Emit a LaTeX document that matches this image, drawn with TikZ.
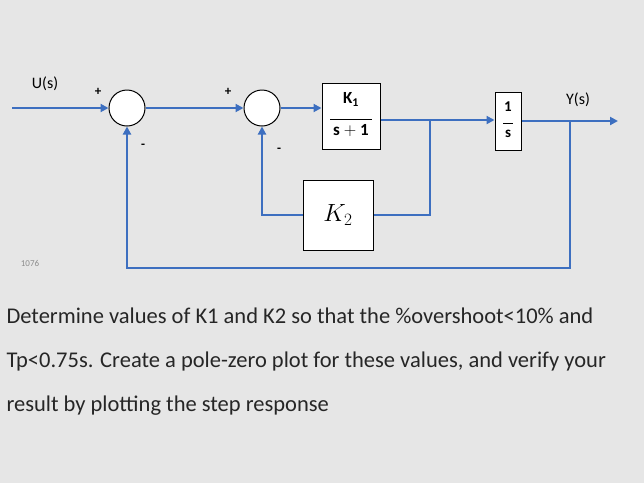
\documentclass[tikz,border=0pt]{standalone}
\usepackage{fontspec}
\setmainfont{Carlito}
\usetikzlibrary{arrows.meta}
\definecolor{ln}{HTML}{3D6FC0}
\definecolor{bg}{HTML}{E6E6E6}
\begin{document}
\begin{tikzpicture}[x=1pt,y=-1pt,
  sig/.style={draw=ln,line width=2.8pt},
  arr/.style={sig,-{Triangle[length=8pt,width=8pt]}},
  sumc/.style={circle,draw=black,line width=1pt,minimum size=36pt,inner sep=0,fill=white},
  blk/.style={draw=black,line width=1pt,fill=white,inner sep=0},
  lbl/.style={font=\fontsize{16}{18}\selectfont},
  pm/.style={font=\bfseries\fontsize{13}{14}\selectfont},
  txt/.style={anchor=west,font=\fontsize{22.5}{26}\selectfont,text=black!85}]
\fill[bg] (0,0) rectangle (644,483);
\useasboundingbox (0,0) rectangle (644,483);
\node[sumc] (s1) at (127,108) {};
\node[sumc] (s2) at (262,108) {};
\node[blk,minimum width=58pt,minimum height=66pt,font=\bfseries\fontsize{17}{19}\selectfont] (g1) at (351,116) {\begin{tabular}{c}$\mathbf{K_1}$\\[-3pt]\rule{42pt}{1.2pt}\\[-3pt]$\mathbf{s+1}$\end{tabular}};
\node[blk,minimum width=26pt,minimum height=58pt,font=\bfseries\fontsize{15}{17}\selectfont] (g2) at (508,121) {\begin{tabular}{c}$\mathbf{1}$\\[-4pt]\rule{10pt}{1.2pt}\\[-4pt]$\mathbf{s}$\end{tabular}};
\node[blk,minimum width=70pt,minimum height=70pt,font=\fontsize{24}{26}\selectfont] (k2) at (338,215) {$K_2$};
\coordinate (in) at (12,108);
\coordinate (out) at (618,121);
\coordinate (b1) at (430,120);
\coordinate (b2) at (570,121);
\node[lbl] (u) at (45,84) {U(s)};
\node[lbl] (y) at (578,100) {Y(s)};
\node[pm] (p1) at (98,92) {+};
\node[pm] (m1) at (143,146) {-};
\node[pm] (p2) at (228,92) {+};
\node[pm] (m2) at (279,150) {-};
\draw[arr] (in) -- (s1.west);
\draw[arr] (s1.east) -- (s2.west);
\draw[arr] (s2.east) -- (s2.east -| g1.west);
\draw[arr] (g1.east |- b1) -- (g2.west |- b1);
\draw[arr] (g2.east |- out) -- (out);
\draw[sig] (b1) |- (k2.east);
\draw[arr] (k2.west) -| (s2.south);
\draw[arr] (b2) |- (127,268) -- (s1.south);
\node[font=\small,text=black!45] (n) at (30,263) {1076};
\node[txt] (t1) at (3,316) {Determine values of K1 and K2 so that the \%overshoot<10\% and};
\node[txt] (t2) at (3,361) {Tp<0.75s. Create a pole-zero plot for these values, and verify your};
\node[txt] (t3) at (3,406) {result by plotting the step response};
\end{tikzpicture}
\end{document}
